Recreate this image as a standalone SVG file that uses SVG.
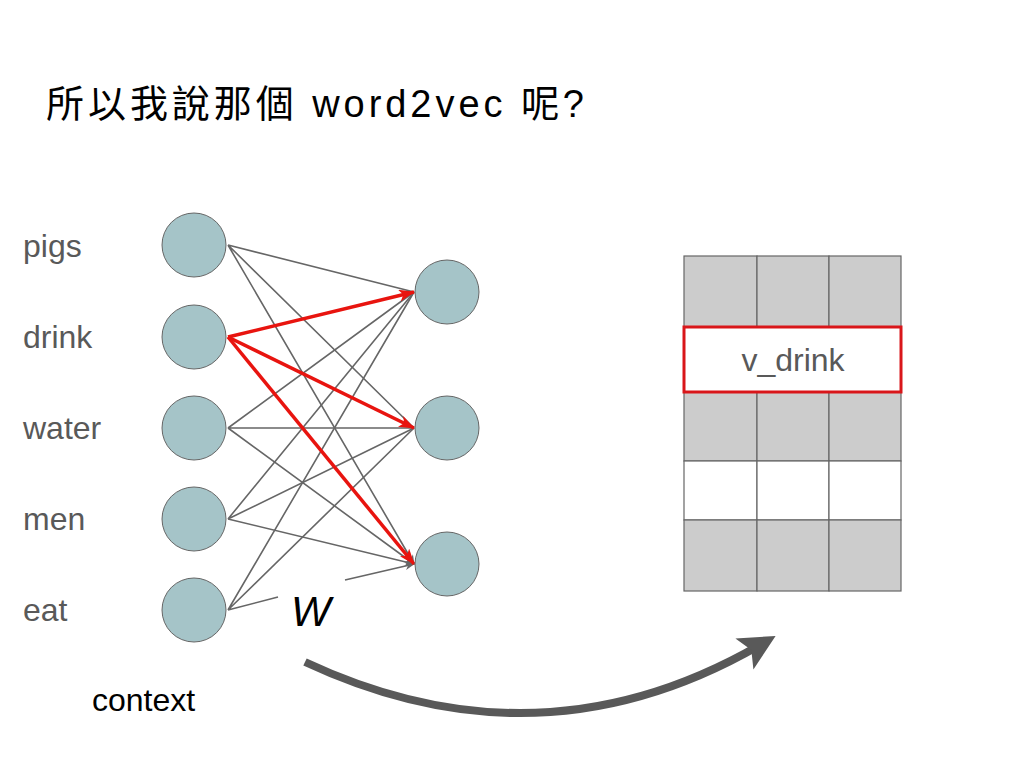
<svg xmlns="http://www.w3.org/2000/svg" width="1024" height="768" viewBox="0 0 1024 768">
<style>
.lbl{font-family:"Liberation Sans",Arial,sans-serif;font-size:32px;fill:#595959}
.n{fill:#a5c4c8;stroke:#666;stroke-width:1}
.e{stroke:#666;stroke-width:1.6;fill:none;marker-end:url(#ga)}
.r{stroke:#e8140f;stroke-width:3.5;fill:none;marker-end:url(#ra)}
.g{fill:#cccccc;stroke:#666;stroke-width:1.2}
.w{fill:#fff;stroke:#666;stroke-width:1.2}
</style>
<defs>
<marker id="ga" markerWidth="10" markerHeight="8" refX="9" refY="4" orient="auto" markerUnits="userSpaceOnUse"><path d="M0,0L10,4L0,8L3,4Z" fill="#666"/></marker>
<marker id="ra" markerWidth="16" markerHeight="12" refX="15" refY="6" orient="auto" markerUnits="userSpaceOnUse"><path d="M0,0L16,6L0,12L4,6Z" fill="#e8140f"/></marker>
<marker id="big" markerWidth="40" markerHeight="36" refX="18" refY="18" orient="auto" markerUnits="userSpaceOnUse"><path d="M0,0L36,18L0,36L8,18Z" fill="#595959"/></marker>
</defs>
<rect width="1024" height="768" fill="#fff"/>
<text x="46" y="117" font-family="'Liberation Sans','Noto Sans CJK TC',sans-serif" font-size="38" fill="#000" textLength="538" lengthAdjust="spacing">所以我說那個 word2vec 呢?</text>
<g id="connectors">
<path class="e" d="M228,245L414,292M228,245L414,428M228,245L414,564"/>
<path class="e" d="M228,428L414,292M228,428L414,428M228,428L414,564"/>
<path class="e" d="M228,519L414,292M228,519L414,428M228,519L414,564"/>
<path class="e" d="M228,610L414,292M228,610L414,428M228,610L278,597M345,580L414,564"/>
<path class="r" d="M228,337L414,292"/>
<path class="r" d="M228,337L414,428"/>
<path class="r" d="M228,337L414,564"/>
<path d="M305,662Q540,772 760,645" fill="none" stroke="#595959" stroke-width="8" marker-end="url(#big)"/>
</g>
<g id="in-pigs"><circle class="n" cx="194" cy="245" r="32"/><text class="lbl" x="23" y="257">pigs</text></g>
<g id="in-drink"><circle class="n" cx="194" cy="337" r="32"/><text class="lbl" x="23" y="348">drink</text></g>
<g id="in-water"><circle class="n" cx="194" cy="428" r="32"/><text class="lbl" x="23" y="439">water</text></g>
<g id="in-men"><circle class="n" cx="194" cy="519" r="32"/><text class="lbl" x="23" y="530">men</text></g>
<g id="in-eat"><circle class="n" cx="194" cy="610" r="32"/><text class="lbl" x="23" y="621">eat</text></g>
<g id="out1"><circle class="n" cx="447" cy="292" r="32"/></g>
<g id="out2"><circle class="n" cx="447" cy="428" r="32"/></g>
<g id="out3"><circle class="n" cx="447" cy="564" r="32"/></g>
<text x="291" y="626" font-family="'Liberation Sans',Arial,sans-serif" font-size="42" font-style="italic" fill="#000">W</text>
<text x="92" y="711" font-family="'Liberation Sans',Arial,sans-serif" font-size="32" fill="#000">context</text>
<g id="matrix">
<rect class="g" x="684" y="256" width="73" height="71"/><rect class="g" x="757" y="256" width="72" height="71"/><rect class="g" x="829" y="256" width="72" height="71"/>
<rect class="g" x="684" y="392" width="73" height="69"/><rect class="g" x="757" y="392" width="72" height="69"/><rect class="g" x="829" y="392" width="72" height="69"/>
<rect class="w" x="684" y="461" width="73" height="59"/><rect class="w" x="757" y="461" width="72" height="59"/><rect class="w" x="829" y="461" width="72" height="59"/>
<rect class="g" x="684" y="520" width="73" height="71"/><rect class="g" x="757" y="520" width="72" height="71"/><rect class="g" x="829" y="520" width="72" height="71"/>
<rect x="684" y="327" width="217" height="65" fill="#fff" stroke="#d9161a" stroke-width="3"/>
<text class="lbl" x="793" y="371" text-anchor="middle">v_drink</text>
</g>
</svg>
